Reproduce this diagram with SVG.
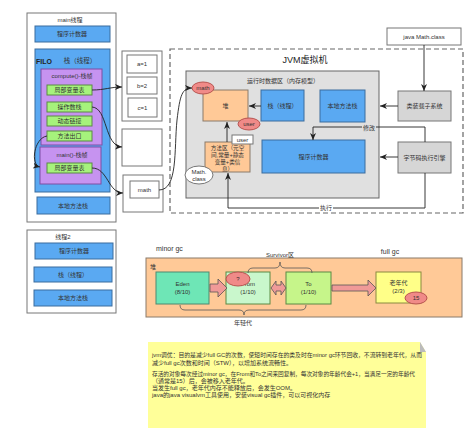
<svg xmlns="http://www.w3.org/2000/svg" width="474" height="440" viewBox="0 0 474 440">
<style>
text{font-family:"Liberation Sans","Noto Sans CJK SC",sans-serif;font-size:6px;fill:#333;text-anchor:middle;dominant-baseline:central}
.blue{fill:#5aa9f2;stroke:#3b6c9e;stroke-width:1}
.purple{fill:#c693f0;stroke:#7d4fa3;stroke-width:1}
.green{fill:#a6f27c;stroke:#5b8a45;stroke-width:1}
.white{fill:#fff;stroke:#777;stroke-width:1}
.gray{fill:#d6d6d6;stroke:#777;stroke-width:1}
.orange{fill:#ffc997;stroke:#8a7a6a;stroke-width:1}
.red{fill:#f08a88;stroke:#b85450;stroke-width:1}
.conn{fill:none;stroke:#222;stroke-width:0.9}
.fat{fill:#f09a98;stroke:#555;stroke-width:0.8}
.brace{fill:none;stroke:#555;stroke-width:0.8}
</style>
<defs>
<marker id="ah" markerWidth="8" markerHeight="8" refX="7" refY="4" orient="auto" markerUnits="userSpaceOnUse">
<path d="M0,1 L7,4 L0,7 L2,4 Z" fill="#222"/>
</marker>
</defs>
<rect width="474" height="440" fill="#fff"/>

<g id="main-thread">
<rect x="27" y="13" width="89" height="209" class="white"/>
<text x="70" y="20">main线程</text>
</g>
<g id="main-pc"><rect x="35" y="26" width="75" height="16" class="blue"/><text x="72" y="34">程序计数器</text></g>
<g id="main-stack">
<rect x="35" y="49" width="75" height="143" class="blue"/>
<text x="44" y="61" style="font-size:7px;font-weight:bold;fill:#222">FILO</text>
<text x="80" y="60" style="font-size:6.5px">栈（线程）</text>
</g>
<g id="compute-frame">
<rect x="41" y="69" width="61" height="76" class="purple"/>
<text x="72" y="76">compute()-栈帧</text>
</g>
<g id="compute-locals"><rect x="47" y="85" width="45" height="10" class="green"/><text x="69.5" y="90">局部变量表</text></g>
<g id="compute-operand"><rect x="47" y="102" width="45" height="10" class="green"/><text x="69.5" y="107">操作数栈</text></g>
<g id="compute-dynlink"><rect x="47" y="116" width="45" height="10" class="green"/><text x="69.5" y="121">动态链接</text></g>
<g id="compute-exit"><rect x="47" y="131" width="45" height="10" class="green"/><text x="69.5" y="136">方法出口</text></g>
<g id="main-frame">
<rect x="40" y="147" width="61" height="37" class="purple"/>
<text x="72" y="155">main()-栈帧</text>
</g>
<g id="main-locals"><rect x="47" y="163" width="45" height="10" class="green"/><text x="69.5" y="168">局部变量表</text></g>
<g id="main-native"><rect x="37" y="197" width="73" height="17" class="blue"/><text x="73" y="205.5">本地方法栈</text></g>

<g id="vars-box">
<rect x="122" y="51" width="40" height="70" class="white"/>
</g>
<g id="var-a"><rect x="127" y="55" width="30" height="18" class="white"/><text x="142" y="64">a=1</text></g>
<g id="var-b"><rect x="127" y="77" width="30" height="17" class="white"/><text x="142" y="85.5">b=2</text></g>
<g id="var-c"><rect x="128" y="98" width="29" height="19" class="white"/><text x="142.5" y="107.5">c=1</text></g>
<g id="operand-box"><rect x="122" y="129" width="40" height="37" class="white"/></g>
<g id="math-box"><rect x="123" y="175" width="40" height="37" class="white"/></g>
<g id="math-inner"><rect x="130" y="181" width="29" height="17" class="white"/><text x="144.5" y="189.5">math</text></g>

<g id="thread2">
<rect x="27" y="230" width="89" height="83" class="white"/>
<text x="63" y="237">线程2</text>
</g>
<g id="t2-pc"><rect x="35" y="243" width="78" height="16" class="blue"/><text x="74" y="251">程序计数器</text></g>
<g id="t2-stack"><rect x="34" y="267" width="78" height="15" class="blue"/><text x="73" y="274.5">栈（线程）</text></g>
<g id="t2-native"><rect x="34" y="290" width="78" height="16" class="blue"/><text x="73" y="298">本地方法栈</text></g>

<g id="jvm">
<rect x="170" y="49" width="293" height="164" fill="#fff" stroke="#666" stroke-width="1.2" stroke-dasharray="5,3"/>
<text x="305" y="60" style="font-size:9px;fill:#222">JVM虚拟机</text>
</g>
<g id="runtime-area">
<rect x="186" y="71" width="193" height="127" fill="#e0e0e0" stroke="#666" stroke-width="1"/>
<text x="283" y="81">运行时数据区（内存模型）</text>
</g>
<g id="heap"><rect x="203" y="90" width="45" height="31" class="orange"/><text x="225.5" y="105.5">堆</text></g>
<g id="jvm-stack"><rect x="261" y="90" width="43" height="31" class="blue"/><text x="282.5" y="105.5">栈（线程）</text></g>
<g id="jvm-native"><rect x="320" y="90" width="45" height="32" class="blue"/><text x="342.5" y="106">本地方法栈</text></g>
<g id="jvm-pc"><rect x="262" y="140" width="103" height="33" class="blue"/><text x="313.5" y="156.5">程序计数器</text></g>
<g id="method-area">
<rect x="205" y="142" width="45" height="30" class="orange"/>
<text x="227.5" y="148" style="font-size:5.6px">方法区（元空</text>
<text x="227.5" y="155" style="font-size:5.6px">间,常量+静态</text>
<text x="227.5" y="162" style="font-size:5.6px">变量+类信</text>
<text x="227.5" y="169" style="font-size:5.6px">息）</text>
</g>
<g id="heap-math"><ellipse cx="203" cy="88" rx="11" ry="6" class="red"/><text x="203" y="88">math</text></g>
<g id="heap-user"><ellipse cx="249" cy="124" rx="11" ry="6" class="red"/><text x="249" y="124">user</text></g>
<g id="user-label"><rect x="232" y="135" width="21" height="9" class="white"/><text x="242.5" y="139.5">user</text></g>
<g id="math-class"><ellipse cx="199" cy="175" rx="14" ry="9" class="white"/><text x="199" y="171.5">Math.</text><text x="199" y="178.5">class</text></g>

<g id="java-math-class"><rect x="387" y="28" width="74" height="17" class="white"/><text x="424" y="36.5">java Math.class</text></g>
<g id="classloader"><rect x="398" y="91" width="53" height="30" class="gray"/><text x="424.5" y="106">类装载子系统</text></g>
<g id="exec-engine"><rect x="398" y="142" width="53" height="31" class="gray"/><text x="424.5" y="157.5">字节码执行引擎</text></g>

<g id="gc-heap">
<rect x="146" y="258" width="316" height="59" class="orange"/>
<text x="153" y="267">堆</text>
</g>
<text x="156" y="248" style="text-anchor:start;font-size:7px">minor gc</text>
<text x="390" y="251" style="font-size:7px">full gc</text>
<g id="eden"><rect x="156" y="272" width="53" height="32" fill="#6ee6b6" stroke="#4d8a70"/><text x="182.5" y="284">Eden</text><text x="182.5" y="292">(8/10)</text></g>
<g id="from"><rect x="226" y="272" width="44" height="32" fill="#c9f7cc" stroke="#5b8a45"/><text x="248" y="284">From</text><text x="248" y="292">(1/10)</text></g>
<g id="to"><rect x="286" y="272" width="45" height="32" fill="#c6f58a" stroke="#5b8a45"/><text x="308.5" y="284">To</text><text x="308.5" y="292">(1/10)</text></g>
<g id="old"><rect x="376" y="272" width="45" height="31" fill="#ffff88" stroke="#8a8a40"/><text x="398.5" y="283">老年代</text><text x="398.5" y="291">(2/3)</text></g>
<g id="from-age"><ellipse cx="238" cy="279" rx="12" ry="7" class="red"/><text x="238" y="279">?</text></g>
<g id="old-age"><ellipse cx="416" cy="298" rx="11" ry="6" class="red"/><text x="416" y="298">15</text></g>
<g id="survivor-brace">
<path class="brace" d="M248,273 Q248,268 253,268 L275,268 Q280,268 280,262 Q280,268 285,268 L307,268 Q312,268 312,273"/>
<text x="280" y="255">Survivor区</text>
</g>
<g id="young-brace">
<path class="brace" d="M180,305 Q180,310 185,310 L239,310 Q244,310 244,315 Q244,310 249,310 L301,310 Q306,310 306,305"/>
<text x="243" y="323">年轻代</text>
</g>

<g id="note">
<path d="M148,342 L420,342 L426,352 L426,428 L148,428 Z" fill="#ffff99" stroke="none"/>
<path d="M420,342 L426,352 L420,352 Z" fill="#bbb"/>
<g style="font-size:5.7px">
<text x="152" y="355" style="text-anchor:start" textLength="270" lengthAdjust="spacingAndGlyphs">jvm调优：目的是减少full GC的次数，使短时间存在的类及时在minor gc环节回收，不流转到老年代，从而</text>
<text x="152" y="363" style="text-anchor:start">减少full gc次数和时间（STW），以增加系统流畅性。</text>
<text x="152" y="374" style="text-anchor:start" textLength="263" lengthAdjust="spacingAndGlyphs">存活的对象每次经过minor gc，在From和To之间来回复制，每次对象的年龄代会+1，当满足一定的年龄代</text>
<text x="152" y="381" style="text-anchor:start">（通常是15）后，会被移入老年代。</text>
<text x="152" y="388" style="text-anchor:start">当发生full gc，老年代内存不能释放后，会发生OOM。</text>
<text x="152" y="395" style="text-anchor:start">java的java visualvm工具使用，安装visual gc插件，可以可视化内存</text>
</g>
</g>

<g id="connectors">
<path class="conn" marker-end="url(#ah)" d="M92,90 C105,90 110,87 122,87"/>
<path class="conn" marker-end="url(#ah)" d="M92,107 C108,108 104,146 122,147"/>
<path class="conn" marker-end="url(#ah)" d="M47,136 C34,138 30,165 40,167"/>
<path class="conn" marker-end="url(#ah)" d="M92,168 C108,168 108,193 123,193"/>
<path class="conn" marker-end="url(#ah)" d="M159,190 C178,190 174,150 177,120 C180,95 182,88 192,88"/>
<path class="conn" marker-end="url(#ah)" d="M261,106 L249,106"/>
<path class="conn" marker-end="url(#ah)" d="M227,142 L227,122"/>
<path class="conn" marker-end="url(#ah)" d="M425,173 L425,208 L228,208 L228,173"/>
<rect x="319" y="204" width="14" height="8" fill="#fff"/>
<text x="326" y="208">执行</text>
<path class="conn" marker-end="url(#ah)" d="M425,142 L425,127 L313,127 L313,140"/>
<rect x="362" y="123" width="14" height="9" fill="#e0e0e0"/>
<text x="369" y="127.5">修改</text>
<path class="conn" marker-end="url(#ah)" d="M424,45 L424,91"/>
<path class="conn" marker-end="url(#ah)" d="M398,106 L380,106"/>
<path class="conn" marker-end="url(#ah)" d="M398,157 L380,157"/>
<polygon class="fat" points="210,284 218,284 218,279 227,288 218,297 218,292 210,292"/>
<polygon class="fat" points="271,288 276,281 276,285 281,285 281,281 286,288 281,295 281,291 276,291 276,295"/>
<polygon class="fat" points="332,285 368,285 368,280 376,288 368,296 368,291 332,291"/>
</g>
</svg>
